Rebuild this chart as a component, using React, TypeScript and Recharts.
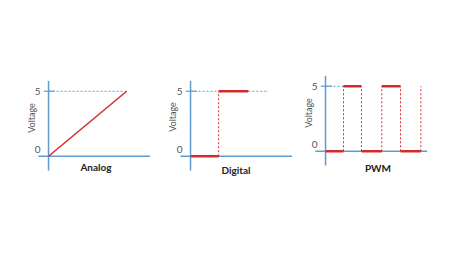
import React from 'react'
import { LineChart, Line, XAxis, YAxis, ReferenceLine } from 'recharts'

// signal levels (volts)
const levelTicks = [0, 5]
const axisXRange = [-1.3, 13]
const axisYRange = [-1.1, 5.8]

// analog: straight ramp
const analogTime = [0, 10]
const analogVolts = [0, 5]
const analogGuideEnd = 10

// digital: single switch from 0 to 5
const digitalEdges = [0, 3.6, 7.4]
const digitalLevels = [0, 5]
const digitalGuideEnd = 10

// pwm: alternating levels between edges
const pwmEdges = [0, 2.3, 4.6, 7.2, 9.6, 12.2]
const pwmLevels = [0, 5, 0, 5, 0]

const X_DOMAIN = [-2.5, 13.5]
const Y_DOMAIN = [-1.75, 6.25]
const W = 125
const H = 104
const LW = 20 // room reserved for the y axis labels
const X_AXIS_PX = (-X_DOMAIN[0] / (X_DOMAIN[1] - X_DOMAIN[0])) * W

const BLUE = '#5f9bd0'
const RED = '#d42a2a'
const FONT = 'Lato, "Open Sans", sans-serif'

const analogData = analogTime.map((t, i) => ({ t, v: analogVolts[i] }))

const LevelTick = (props: any) => {
  const v = props.payload.value
  return (
    <text
      x={LW + X_AXIS_PX - 11}
      y={props.y + (v === 0 ? -7 : 0)}
      dy={3.5}
      textAnchor="middle"
      fontSize={10}
      fontFamily={FONT}
      fill="#555"
    >
      {v}
    </text>
  )
}

function Axes() {
  return [
    <XAxis key="x" type="number" dataKey="t" domain={X_DOMAIN} allowDataOverflow hide />,
    <YAxis
      key="y"
      type="number"
      domain={Y_DOMAIN}
      allowDataOverflow
      width={LW}
      ticks={levelTicks}
      axisLine={false}
      tickLine={false}
      tick={LevelTick}
    />,
    <ReferenceLine
      key="ax"
      segment={[{ x: axisXRange[0], y: 0 }, { x: axisXRange[1], y: 0 }]}
      stroke={BLUE}
      strokeWidth={1.5}
    />,
    <ReferenceLine
      key="ay"
      segment={[{ x: 0, y: axisYRange[0] }, { x: 0, y: axisYRange[1] }]}
      stroke={BLUE}
      strokeWidth={1.5}
    />,
    <ReferenceLine
      key="t5"
      segment={[{ x: -0.6, y: 5 }, { x: 0.8, y: 5 }]}
      stroke={BLUE}
      strokeWidth={1.2}
    />,
  ]
}

const guide = (key: string, x0: number, x1: number) => (
  <ReferenceLine
    key={key}
    segment={[{ x: x0, y: 5 }, { x: x1, y: 5 }]}
    stroke={BLUE}
    strokeWidth={1}
    strokeDasharray="2 2"
  />
)

const level = (key: string, x0: number, x1: number, y: number) => (
  <ReferenceLine
    key={key}
    segment={[{ x: x0, y }, { x: x1, y }]}
    stroke={RED}
    strokeWidth={2.5}
  />
)

const edge = (key: string, x: number) => (
  <ReferenceLine
    key={key}
    segment={[{ x, y: 0 }, { x, y: 5 }]}
    stroke={RED}
    strokeWidth={1}
    strokeDasharray="2 2"
  />
)

const Caption = ({ x, y, text }: { x: number; y: number; text: string }) => (
  <div
    style={{
      position: 'absolute',
      left: x - 40,
      top: y - 7,
      width: 80,
      textAlign: 'center',
      fontFamily: FONT,
      fontWeight: 700,
      fontSize: 10,
      color: '#222',
      lineHeight: '14px',
    }}
  >
    {text}
  </div>
)

const Voltage = ({ x, y }: { x: number; y: number }) => (
  <div
    style={{
      position: 'absolute',
      left: x - 25,
      top: y - 7,
      width: 50,
      textAlign: 'center',
      fontFamily: FONT,
      fontSize: 9,
      color: '#555',
      lineHeight: '14px',
      transform: 'rotate(-90deg)',
    }}
  >
    Voltage
  </div>
)

const panel = (axisLeft: number, top: number, children: React.ReactNode) => (
  <div style={{ position: 'absolute', left: axisLeft - X_AXIS_PX - LW, top }}>
    <LineChart width={W + LW} height={H} margin={{ top: 0, right: 0, bottom: 0, left: 0 }}>
      {Axes()}
      {children}
    </LineChart>
  </div>
)

export default function App() {
  const pwmParts: React.ReactNode[] = []
  pwmLevels.forEach((lv, i) => {
    if (lv === 0 && i < 2) pwmParts.push(guide('g' + i, pwmEdges[i], pwmEdges[i + 1]))
    pwmParts.push(level('l' + i, pwmEdges[i], pwmEdges[i + 1], lv))
  })
  pwmEdges.slice(1).forEach((x, i) => pwmParts.push(edge('e' + i, x)))

  return (
    <div
      style={{
        position: 'fixed',
        left: 0,
        top: 0,
        width: 474,
        height: 266,
        background: '#fff',
        overflow: 'hidden',
      }}
    >
      {panel(
        49,
        74.75,
        <>
          {guide('g', 0, analogGuideEnd)}
          <Line
            data={analogData}
            dataKey="v"
            stroke={RED}
            strokeWidth={1.5}
            dot={false}
            isAnimationActive={false}
          />
        </>
      )}
      {panel(
        191,
        74.75,
        <>
          {guide('g0', 0, digitalEdges[1])}
          {guide('g1', digitalEdges[2], digitalGuideEnd)}
          {level('l0', digitalEdges[0], digitalEdges[1], digitalLevels[0])}
          {edge('e0', digitalEdges[1])}
          {level('l1', digitalEdges[1], digitalEdges[2], digitalLevels[1])}
        </>
      )}
      {panel(326, 69.75, <>{pwmParts}</>)}

      <Voltage x={32} y={118} />
      <Voltage x={173} y={117} />
      <Voltage x={309} y={113} />
      <Caption x={96} y={167} text="Analog" />
      <Caption x={236} y={170} text="Digital" />
      <Caption x={378} y={168} text="PWM" />
    </div>
  )
}
